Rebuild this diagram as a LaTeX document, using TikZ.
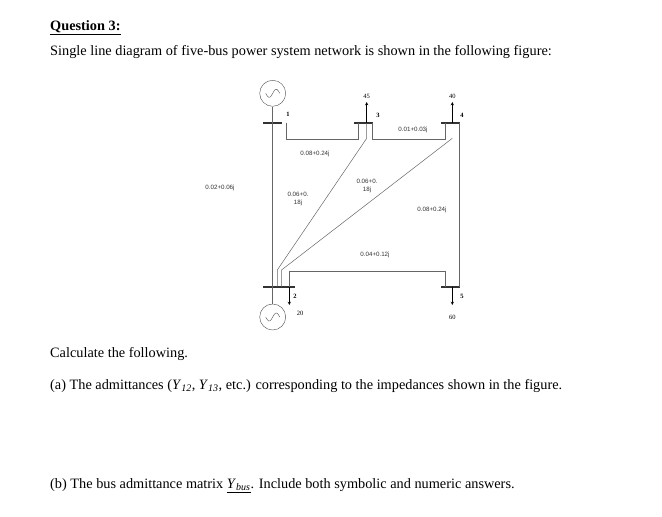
\documentclass[tikz,border=0pt]{standalone}
\usepackage{fontspec}
\setmainfont{Liberation Serif}
\newfontfamily\lblfont{Liberation Sans}
\begin{document}
\begin{tikzpicture}[x=1pt,y=-1pt,
  txt/.style={anchor=west,inner sep=0pt,font=\fontsize{14.3}{16}\selectfont},
  imp/.style={inner sep=0pt,font=\lblfont\fontsize{6.2}{7.5}\selectfont,align=center,black!80},
  num/.style={inner sep=0pt,font=\fontsize{6.5}{7.5}\selectfont},
  busbar/.style={line width=1.6pt,black!80},
  ln/.style={line width=0.5pt,black!60},
  ld/.style={line width=0.5pt,-stealth}]
\useasboundingbox (0,0) rectangle (662,517);
\node[txt] (q) at (50,28) {\textbf{\underline{Question 3:}}};
\node[txt] (s) at (50,52) {Single line diagram of five-bus power system network is shown in the following figure:};
\node[txt] (c) at (50,354) {Calculate the following.};
\node[txt] (a) at (50,386) {(a) The admittances (\textit{Y}\textsubscript{\textit{12}}, \textit{Y}\textsubscript{\textit{13}}, etc.) corresponding to the impedances shown in the figure.};
\node[txt] (b) at (50,486) {(b) The bus admittance matrix \underline{\textit{Y}\textsubscript{\textit{bus}}}. Include both symbolic and numeric answers.};
% generators
\node[draw,circle,minimum size=26pt,inner sep=0pt,black!70] (g1) at (272.7,93.3) {};
\node[draw,circle,minimum size=26pt,inner sep=0pt,black!70] (g2) at (272.7,317) {};
\draw[black!70,shift={(g1.center)}] plot[domain=-7:7,samples=40,smooth] ({\x},{-4*sin(\x*180/7)});
\draw[black!70,shift={(g2.center)}] plot[domain=-7:7,samples=40,smooth] ({\x},{-4*sin(\x*180/7)});
% buses
\coordinate (b1l) at (263,122.7); \coordinate (b1r) at (282,122.7);
\coordinate (b3l) at (354,122.7); \coordinate (b3r) at (373,122.7);
\coordinate (b4l) at (441,122.7); \coordinate (b4r) at (460,122.7);
\coordinate (b2l) at (263,286.7); \coordinate (b2r) at (295,286.7);
\coordinate (b5l) at (441,286.7); \coordinate (b5r) at (460,286.7);
\draw[busbar] (b1l) -- (b1r); \draw[busbar] (b3l) -- (b3r); \draw[busbar] (b4l) -- (b4r);
\draw[busbar] (b2l) -- (b2r); \draw[busbar] (b5l) -- (b5r);
\draw[ln] (g1.south) -- (g2.north);
\draw[ln] (286.7,122.7) -- (286.7,139.3) -- (358.7,139.3) -- (358.7,122.7);
\draw[ln] (372.7,122.7) -- (372.7,139.3) -- (445,139.3) -- (445,122.7);
\draw[ln] (277.3,286.7) -- (277.3,270) -- (366.7,138.3) -- (366.7,122.7);
\draw[ln] (281.5,286.7) -- (281.5,270) -- (452.3,138.3);
\draw[ln] (289.3,286.7) -- (289.3,271.7) -- (445.7,271.7) -- (445.7,286.7);
\draw[ln] (459.3,122.7) -- (459.3,286.7);
% loads
\draw[ld] (366.7,122.7) -- (366.7,102);
\draw[ld] (452.3,122.7) -- (452.3,102);
\draw[ld] (289.3,286.7) -- (289.3,305);
\draw[ld] (452.3,286.7) -- (452.3,305);
\node[num] (l3) at (366.7,96) {45};
\node[num] (l4) at (452.3,96) {40};
\node[num] (l2) at (300,313) {20};
\node[num] (l5) at (452.3,317) {60};
\node[num] (n1) at (288,114) {\textbf{1}};
\node[num] (n3) at (378,115) {\textbf{3}};
\node[num] (n4) at (462,115) {\textbf{4}};
\node[num] (n2) at (295,296) {\textbf{2}};
\node[num] (n5) at (462,296) {\textbf{5}};
\node[imp] (z13) at (315,154) {0.08+0.24j};
\node[imp] (z34) at (413,130) {0.01+0.03j};
\node[imp] (z12) at (220,188) {0.02+0.06j};
\node[imp] (z23) at (298,199) {0.06+0.\\18j};
\node[imp] (z24) at (367,186) {0.06+0.\\18j};
\node[imp] (z45) at (432,210) {0.08+0.24j};
\node[imp] (z25) at (375,255) {0.04+0.12j};
\end{tikzpicture}
\end{document}
